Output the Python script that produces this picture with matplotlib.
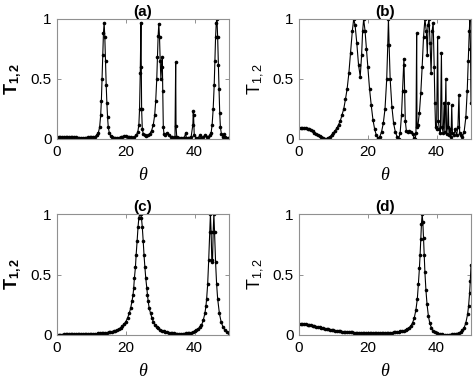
import matplotlib
matplotlib.use("Agg")
import matplotlib.pyplot as plt

plt.rcParams['font.family'] = ['Liberation Sans', 'DejaVu Sans']
plt.rcParams['mathtext.fontset'] = 'custom'
plt.rcParams['mathtext.rm'] = 'Liberation Sans'
plt.rcParams['mathtext.it'] = 'Liberation Serif:italic'
plt.rcParams['mathtext.bf'] = 'Liberation Sans:bold'

# panel (a)
theta_a = [0, 0.5, 1, 1.5, 2, 2.5, 3, 3.5, 4, 4.5, 5, 5.5, 6, 6.5, 7, 7.5, 8, 8.5, 9, 9.5, 10,
           10.5, 11, 11.5, 12, 12.4, 12.7, 12.9, 13.1, 13.3, 13.5,
           13.7, 13.9, 14.1, 14.3, 14.5, 14.7, 14.9, 15.2, 15.6, 16, 16.5, 17, 17.5, 18, 18.5,
           19, 19.5, 20, 20.5, 21, 21.5, 22, 22.5,
           23, 23.5, 23.8, 24.0, 24.2, 24.4, 24.5, 24.6, 24.8, 25.1, 25.5, 26, 26.5, 27, 27.5, 28,
           28.4, 28.7, 29.0, 29.2, 29.4, 29.6, 29.8, 30.0, 30.2, 30.4, 30.6, 30.75, 30.9, 31.1,
           31.5, 32, 32.5, 33, 33.5, 34, 34.3, 34.5, 34.6, 34.8, 35.2, 35.6, 36, 36.5, 37, 37.4,
           37.6, 38, 38.5, 39, 39.5, 39.6, 39.7, 39.9, 40.5, 41, 41.6, 42, 42.5, 43, 43.5, 44,
           44.5, 44.8, 45.1, 45.4, 45.7, 45.9, 46.1, 46.3, 46.5, 46.7, 46.9, 47.1, 47.3, 47.5,
           47.8, 48.2, 48.5, 48.8, 49.2, 49.6, 50]
t_a = [0.015, 0.015, 0.015, 0.015, 0.015, 0.015, 0.015, 0.015, 0.014, 0.014, 0.013, 0.013,
       0.012, 0.012, 0.012, 0.012, 0.012, 0.012, 0.013, 0.014, 0.015, 0.017, 0.02, 0.03,
       0.05, 0.1, 0.2, 0.32, 0.5, 0.7, 0.88, 0.97, 0.85, 0.65, 0.45, 0.3, 0.18, 0.1, 0.05, 0.025,
       0.015, 0.012, 0.01, 0.011, 0.012, 0.015, 0.02, 0.021, 0.022, 0.02, 0.018, 0.015, 0.012,
       0.015, 0.03, 0.06, 0.12, 0.25, 0.55, 0.97,
       0.6, 0.25, 0.08, 0.04, 0.03, 0.025, 0.03, 0.045, 0.07, 0.12, 0.2, 0.32, 0.5, 0.68, 0.86,
       0.96, 0.85, 0.65, 0.5, 0.6, 0.68, 0.4, 0.1, 0.04, 0.03, 0.05, 0.03, 0.02, 0.015, 0.01,
       0.02, 0.64, 0.11, 0.02, 0.012, 0.008, 0.005, 0.007, 0.01, 0.05, 0.01, 0.01, 0.01, 0.02,
       0.12, 0.23, 0.2, 0.03, 0.01, 0.01, 0.03, 0.01, 0.015, 0.03, 0.015, 0.02, 0.03, 0.05,
       0.12, 0.25, 0.45, 0.65, 0.85, 0.97, 1.0, 0.85, 0.62, 0.42, 0.22, 0.1, 0.04, 0.02, 0.04,
       0.015, 0.01, 0.01, 0.01]

# panel (b)
theta_b = [0, 0.5, 1, 1.5, 2, 2.5, 3, 3.5, 4, 4.5, 5, 5.5, 6, 6.5, 7, 7.5, 8, 8.5, 9, 9.5, 10,
           10.5, 11, 11.5, 12, 12.5, 13, 13.5, 14, 14.5, 15, 15.5, 15.9, 16.3, 16.8, 17.3, 17.8,
           18.2, 18.5, 18.8, 19.2, 19.6, 20, 20.5, 21, 21.5, 22, 22.5, 23, 23.5, 24, 24.5, 25,
           25.5, 25.8, 26, 26.2, 26.5, 27, 27.5, 28, 28.5, 29, 29.4, 29.8, 30.1, 30.4, 30.5, 30.7,
           30.9, 31.2, 31.6, 32, 32.5, 33, 33.5, 33.8, 34.0, 34.2, 34.3, 34.6, 35.0, 35.4, 35.8,
           36.2, 36.6, 37.0, 37.3, 37.5, 37.8, 38.1, 38.4, 38.7, 39.0, 39.3, 39.5, 39.7, 40.0,
           40.3, 40.5, 40.8, 41.1, 41.4, 41.6, 41.9, 42.2, 42.4, 42.7, 42.9, 43.2, 43.4, 43.6,
           43.9, 44.2, 44.4, 44.6, 45.0, 45.4, 45.8, 46.2, 46.5, 46.7, 47.0, 47.5, 48.0, 48.5,
           48.9, 49.2, 49.5, 49.7, 49.85, 50]
t_b = [0.09, 0.092, 0.093, 0.092, 0.09, 0.086, 0.08, 0.072, 0.063, 0.053, 0.042, 0.032, 0.022,
       0.013, 0.006, 0.003, 0.004, 0.01, 0.02, 0.033, 0.05, 0.07, 0.09, 0.12, 0.15, 0.2, 0.25,
       0.33, 0.42, 0.55, 0.72, 0.9, 1.0, 0.95, 0.8, 0.62, 0.52, 0.7, 0.9, 1.0, 0.9, 0.75, 0.6,
       0.42, 0.28, 0.16, 0.08, 0.03, 0.005, 0.02, 0.06, 0.13, 0.25, 0.5, 0.78, 1.0, 0.78, 0.5,
       0.27, 0.13, 0.06, 0.02, 0.003, 0.05, 0.2, 0.4, 0.62, 0.67, 0.4, 0.15, 0.07, 0.06, 0.065,
       0.06, 0.04, 0.01, 0.0, 0.05, 0.88, 0.1, 0.12, 0.22, 0.38, 0.6, 0.85, 1.0, 0.9, 0.7, 0.95,
       1.0, 0.8, 0.55, 0.9, 0.97, 0.6, 0.3, 0.1, 0.08, 0.85, 0.15, 0.08, 0.05, 0.72, 0.1, 0.05,
       0.3, 0.06, 0.5, 0.04, 0.1, 0.3, 0.03, 0.08, 0.02, 0.28, 0.05, 0.03, 0.08, 0.03, 0.1,
       0.37, 0.05, 0.03, 0.02, 0.06, 0.18, 0.4, 0.65, 0.9, 1.0, 0.75, 0.3]

# panel (c)
theta_c = [0, 0.5, 1, 1.5, 2, 2.5, 3, 3.5, 4, 4.5, 5, 5.5, 6, 6.5, 7, 7.5, 8, 8.5, 9, 9.5, 10,
           10.5, 11, 11.5, 12, 12.5, 13, 13.5, 14, 14.5, 15, 15.5, 16, 16.5, 17, 17.5, 18, 18.5,
           19, 19.5, 20, 20.5, 21, 21.4, 21.8, 22.1, 22.3, 22.5, 22.8, 23.0, 23.3, 23.55, 23.8,
           24.05, 24.3, 24.55, 24.8, 25.05, 25.3, 25.55, 25.8, 26.1, 26.3, 26.5, 26.8, 27.2, 27.6,
           28, 28.5, 29, 29.5, 30, 30.5, 31, 31.5, 32, 32.5, 33, 33.5, 34, 34.5, 35, 35.5, 36,
           36.5, 37, 37.5, 38, 38.5, 39, 39.5, 40, 40.5, 41, 41.5, 42, 42.5, 43, 43.3, 43.5, 43.8,
           44.1, 44.4, 44.6, 44.8, 45.0, 45.2, 45.4, 45.6, 45.8, 46.1, 46.4, 46.7, 47.2, 47.7,
           48.2, 48.8, 49.4, 50]
t_c = [0.004, 0.004, 0.004, 0.004, 0.005, 0.005, 0.005, 0.005, 0.005, 0.005, 0.006, 0.006,
       0.006, 0.006, 0.007, 0.007, 0.008, 0.008, 0.009, 0.009, 0.01, 0.01, 0.011, 0.012, 0.013,
       0.014, 0.015, 0.016, 0.018, 0.02, 0.022, 0.025, 0.028, 0.032, 0.036, 0.042, 0.05, 0.06,
       0.075, 0.09, 0.11, 0.14, 0.18, 0.22, 0.28, 0.33, 0.39, 0.47, 0.56, 0.66, 0.78, 0.89,
       0.97, 1.0, 1.0, 0.97, 0.89, 0.78, 0.66, 0.56, 0.47, 0.39, 0.33, 0.28, 0.22, 0.18, 0.14,
       0.11, 0.085, 0.068, 0.055, 0.045, 0.037, 0.03, 0.026, 0.022, 0.019, 0.016, 0.014, 0.013,
       0.012, 0.011, 0.011, 0.011, 0.011, 0.012, 0.013, 0.015, 0.017, 0.02, 0.024, 0.03, 0.038,
       0.05, 0.065, 0.08, 0.12, 0.18, 0.24, 0.3, 0.42, 0.62, 0.85, 1.0, 0.85, 0.62, 0.6, 0.85,
       1.0, 0.85, 0.6, 0.42, 0.3, 0.18, 0.11, 0.07, 0.04, 0.025, 0.015]

# panel (d)
theta_d = [0, 0.5, 1, 1.5, 2, 2.5, 3, 3.5, 4, 4.5, 5, 5.5, 6, 6.5, 7, 7.5, 8, 8.5, 9, 9.5, 10,
           10.5, 11, 11.5, 12, 12.5, 13, 13.5, 14, 14.5, 15, 15.5, 16, 16.5, 17, 17.5, 18, 18.5,
           19, 19.5, 20, 20.5, 21, 21.5, 22, 22.5, 23, 23.5, 24, 24.5, 25, 25.5, 26, 26.5, 27,
           27.5, 28, 28.5, 29, 29.5, 30, 30.5, 31, 31.5, 32, 32.5, 33, 33.5, 34, 34.4, 34.7, 35.0,
           35.2, 35.4, 35.6, 35.8, 36.0, 36.2, 36.4, 36.6, 36.9, 37.2, 37.6, 38, 38.5, 39, 39.5,
           40, 40.5, 41, 41.5, 42, 42.5, 43, 43.5, 44, 44.5, 45, 45.5, 46, 46.5, 47, 47.5, 48,
           48.5, 49, 49.3, 49.6, 49.8, 50]
t_d = [0.09, 0.09, 0.09, 0.089, 0.088, 0.086, 0.083, 0.08, 0.077, 0.073, 0.07, 0.066, 0.063,
       0.06, 0.056, 0.053, 0.05, 0.047, 0.044, 0.041, 0.039, 0.036, 0.034, 0.032, 0.03, 0.028,
       0.027, 0.025, 0.024, 0.023, 0.022, 0.021, 0.02, 0.019, 0.018, 0.018, 0.017, 0.017, 0.016,
       0.016, 0.015, 0.015, 0.015, 0.015, 0.015, 0.015, 0.015, 0.015, 0.016, 0.016, 0.017,
       0.017, 0.018, 0.019, 0.02, 0.021, 0.022, 0.024, 0.026, 0.029, 0.032, 0.036, 0.042, 0.05,
       0.06, 0.075, 0.1, 0.14, 0.21, 0.3, 0.42, 0.55, 0.66, 0.79, 0.92, 1.0, 0.93, 0.8, 0.66,
       0.52, 0.37, 0.26, 0.16, 0.1, 0.06, 0.035, 0.024, 0.015, 0.01, 0.007, 0.005, 0.004, 0.003,
       0.003, 0.003, 0.004, 0.005, 0.006, 0.008, 0.012, 0.017, 0.025, 0.04, 0.06, 0.1, 0.17,
       0.24, 0.35, 0.45, 0.58]

panels = [
    ("(a)", theta_a, t_a, [57, 19, 229, 139], True),
    ("(b)", theta_b, t_b, [299, 19, 471, 139], False),
    ("(c)", theta_c, t_c, [57, 214, 229, 335], True),
    ("(d)", theta_d, t_d, [299, 214, 471, 335], False),
]

W, H = 474, 382
fig = plt.figure(figsize=(W / 100, H / 100), dpi=100)

for title, xs, ys, box, bold in panels:
    x0, y0, x1, y1 = box
    ax = fig.add_axes([x0 / W, 1 - y1 / H, (x1 - x0) / W, (y1 - y0) / H])
    ax.plot(xs, ys, color='black', lw=0.8, marker='o', ms=2.6, mew=0, mfc='black')
    ax.set_xlim(0, 50)
    ax.set_ylim(0, 1)
    ax.set_xticks([0, 20, 40])
    ax.set_yticks([0, 0.5, 1])
    ax.set_yticklabels(['0', '0.5', '1'])
    ax.tick_params(direction='in', length=3, width=0.6, color='#808080', labelsize=11,
                   top=True, right=True, pad=4)
    for s in ax.spines.values():
        s.set_color('#909090')
        s.set_linewidth(0.8)
    ax.set_title(title, fontsize=11, fontweight='bold', pad=2)
    if bold:
        ax.set_ylabel(r'$\mathbf{T}_{\mathbf{1,2}}$', fontsize=13)
    else:
        ax.set_ylabel(r'$\mathrm{T}_{1,2}$', fontsize=13)
    ax.yaxis.set_label_coords(-0.19, 0.5)
    ax.set_xlabel(r'$\theta$', fontsize=13)
    ax.xaxis.set_label_coords(0.5, -0.235)

fig.savefig("out.png", dpi=100)
